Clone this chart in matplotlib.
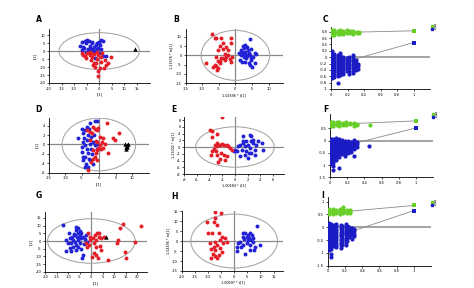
import numpy as np
import matplotlib
matplotlib.use("Agg")
import matplotlib.pyplot as plt
from matplotlib.patches import Ellipse

# ---------------- data ----------------
# Panel A (PCA scores)
A_blue_x = [-7.7,-7.0,-5.8,-4.8,-4.0,-5.3,-6.3,-7.0,-2.7,-2.0,-1.3,-0.7,0.0,0.6,1.3,0.3,-1.0,-2.3,-3.3,-4.4,-5.3,-1.7,1.6,2.7,-3.0,-3.6,-6.0,-0.3,0.8,-1.7,0.1,-4.0,-2.5]
A_blue_y = [3.1,5.8,6.4,6.8,6.2,4.8,2.7,0.6,4.8,2.7,3.7,5.2,5.8,6.8,6.4,3.7,1.6,0.6,1.0,1.6,-0.4,-4.6,-3.1,-3.1,5.5,3.0,1.8,2.2,1.0,0.0,-1.0,0.0,-1.4]
A_red_x = [-7.0,-6.4,-5.7,-4.8,-3.8,-5.4,-3.2,-2.5,-1.8,-1.2,-0.5,0.2,-0.5,1.7,2.7,3.6,4.7,2.4,0.6,1.0,-0.3,-2.9,-3.8,-0.7,-2.0,0.6,-2.0,-3.4,-1.0]
A_red_y = [-1.4,-2.5,-3.1,-1.4,-2.5,-4.6,-5.6,-8.7,-9.7,-7.7,-12.2,-10.8,-15.9,-10.8,-8.7,-7.7,-3.9,-5.6,-3.5,-1.4,-2.5,-3.5,-0.4,-0.4,-1.9,-7.0,-7.7,-1.0,-5.0]
A_black_x = [14.2]
A_black_y = [1.2]

# Panel B (OPLS-DA scores)
B_red_x = [-7.0,-6.2,-5.7,-4.2,-1.2,-4.7,-3.7,-2.7,-3.2,-2.2,-4.2,-5.2,-4.7,-5.7,-5.2,-5.4,-6.2,-6.7,-8.7,-3.2,-2.7,-1.7,-1.2,-1.0,-2.2,-3.7,-5.2,-5.7,-1.2,-4.5,-3.8]
B_red_y = [11.4,9.5,9.5,9.5,9.1,5.2,3.2,4.6,0.7,0.2,-1.6,-2.9,-4.3,-5.5,-6.8,-7.7,-5.2,-6.1,-3.9,-2.5,-0.7,-2.1,-3.4,-0.7,2.9,6.4,2.9,-0.7,6.4,-3.0,-1.2]
B_blue_x = [4.3,2.3,3.0,1.6,2.0,2.8,3.8,4.8,5.8,5.3,4.3,3.3,2.3,1.6,2.0,2.8,4.0,4.8,5.8,6.3,2.6,3.6,3.3,1.3,4.3,5.0,3.0,4.0,1.2,3.5,2.5,4.6]
B_blue_y = [8.6,5.0,5.5,2.9,2.0,2.0,2.9,3.2,1.1,-0.7,0.2,0.2,0.2,0.2,-3.4,-3.4,-3.9,-2.5,-4.3,0.7,3.8,4.6,-1.6,-2.5,-5.2,-6.1,1.2,1.0,1.2,-0.6,-1.0,-1.3]

# Panel D
D_blue_x = [-6.1,-5.1,-4.6,-4.1,-3.6,-2.6,-3.1,-4.6,-5.1,-4.1,-3.6,-2.6,-1.7,-1.2,-2.2,-3.1,-4.1,-4.6,-3.8,-3.1,-4.1,-2.6,-1.7,-1.2,-0.7,-5.1,-3.4,-2.2,-1.5,-2.8,-0.7,-4.4,-4.8,-2.0,-0.5,-3.0]
D_blue_y = [1.3,3.4,2.4,3.1,3.8,4.5,2.0,0.6,-0.5,-0.1,-0.9,0.2,0.6,-0.1,-0.9,-1.9,-2.6,-3.4,-4.1,-4.8,-4.8,-3.4,-4.1,4.9,4.9,-1.6,0.9,1.6,2.1,3.4,0.2,1.3,-2.6,-2.0,-1.0,-3.0]
D_red_x = [-3.4,-2.6,-1.7,-1.2,-0.7,0.3,0.8,1.3,0.5,-0.5,-0.9,-1.2,-0.7,-1.7,-2.2,-3.1,2.5,6.1,4.3,4.8,1.3,2.8,0.3,-0.2,-2.0,-0.5,-1.8,-0.3,1.8,-1.0,-2.5]
D_red_y = [3.1,2.7,3.8,3.4,3.1,1.6,0.6,-0.7,-0.9,-1.2,-1.9,-2.6,-3.4,-3.0,-3.7,-5.4,4.5,2.4,1.3,1.0,1.4,-1.9,-0.1,-0.8,2.5,0.5,-1.2,3.6,0.2,0.8,1.0]
D_black_x = [7.9,8.3,8.6,8.1,8.5,8.0]
D_black_y = [0.2,-0.2,0.1,-0.6,-0.5,-0.9]

# Panel E
E_red_x = [-2.1,-3.9,-3.7,-2.9,-3.6,-3.2,-2.9,-2.6,-2.4,-2.1,-1.8,-1.3,-1.1,-0.8,-3.3,-3.6,-3.8,-2.9,-2.2,-1.8,-1.3,-2.4,-1.6,-2.6,-0.5,-2.8,-3.0]
E_red_y = [8.9,5.2,4.7,3.9,2.9,0.7,0.2,0.7,0.5,0.9,0.5,0.7,0.2,-0.3,-0.5,-1.3,-2.3,-2.3,-1.8,-2.5,-2.8,-3.5,-3.8,-4.3,-0.8,1.2,-1.2]
E_blue_x = [1.3,2.4,2.6,1.8,1.2,0.8,0.5,0.0,0.3,0.8,1.6,2.1,2.6,3.2,3.4,3.7,4.2,4.5,2.4,1.6,2.1,2.9,1.1,1.7,2.9,3.2,1.3,2.2,2.6,-0.1]
E_blue_y = [3.2,3.7,3.2,1.7,1.2,0.7,0.2,-0.8,-1.3,-2.8,-2.3,-3.3,-1.8,-0.8,0.7,1.7,1.2,-0.8,-0.3,0.2,0.7,1.2,-0.8,-1.1,2.2,-2.3,1.7,-1.8,1.7,-1.1]

# Panel G
G_blue_x = [-12.3,-6.5,-5.8,-6.8,-5.1,-5.8,-4.3,-7.2,-8.3,-9.4,-10.9,-10.1,-8.7,-7.2,-5.8,-4.3,-3.6,-2.9,-1.9,-5.1,-6.5,-8.0,-9.4,-10.9,-8.7,-6.8,-4.3,-3.6,-3.9,-5.4,-8.0,-6.2,-2.5,-9.7,-7.5,-4.8,-6.0,-3.0]
G_blue_y = [10.4,8.9,8.3,7.2,6.7,5.0,5.4,3.9,2.8,1.7,0.7,-1.5,-1.1,-0.4,0.7,1.7,2.8,1.1,-0.4,-1.5,-2.6,-3.7,-4.8,-6.5,-6.5,-5.9,-5.4,-9.1,-11.3,1.7,0.7,2.8,3.9,5.0,4.5,3.4,-4.0,-1.8]
G_red_x = [-1.4,-0.4,-1.0,-1.9,0.7,1.4,2.5,3.3,4.3,1.9,1.0,2.2,3.6,4.3,2.2,2.9,7.2,1.0,0.4,10.9,11.6,12.3,13.5,21.7,14.5,15.2,18.8,5.4,3.3,-0.7,-2.5]
G_red_y = [5.4,2.8,-2.6,-4.1,1.7,3.9,5.0,2.4,1.7,0.7,-1.5,-3.7,-3.3,-5.9,-9.1,-11.3,-12.4,-7.6,-10.2,-1.5,0.7,8.3,11.1,9.8,-7.0,-11.3,-0.4,2.8,5.4,0.7,-1.5]
G_black_x = [6.5]
G_black_y = [2.8]

# Panel H
H_red_x = [-7.2,-4.9,-10.4,-7.2,-7.8,-6.6,-10.0,-8.5,-5.9,-4.7,-3.4,-2.8,-7.5,-6.6,-7.8,-8.7,-7.2,-5.3,-4.7,-8.2,-7.5,-5.9,-8.7,-6.6,-5.3,-4.1,-9.1]
H_red_y = [14.7,14.2,9.7,11.3,9.3,8.0,3.8,4.2,4.2,2.2,1.3,-0.3,-0.3,-2.0,-3.2,-4.2,-4.5,-3.7,-5.3,-6.7,-7.5,-7.0,-8.7,-8.7,0.5,-1.2,-1.2]
H_blue_x = [8.6,3.2,4.2,6.1,6.7,4.8,5.7,3.9,2.3,1.6,1.0,1.0,3.2,4.8,6.1,7.3,9.9,8.0,6.1,4.2,5.4,7.0,5.2,3.5,6.5,2.7,7.7]
H_blue_y = [7.5,3.8,4.2,3.8,3.0,2.2,1.3,0.8,-0.3,-1.2,-2.8,-5.0,-2.0,-1.2,-2.0,-0.3,-2.0,-2.8,-4.5,-6.5,0.5,1.3,3.0,2.2,0.5,-3.2,-4.5]

# Permutation tests: columns of permuted models (x = correlation, values = R2 / Q2)
C_q2_cols = [0.01,0.04,0.08,0.11,0.15,0.19,0.22,0.27,0.30,0.33]
C_q2_vals = [[0.20,0.13,0.07,0.01,-0.05,-0.12,-0.18,-0.25,-0.31,-0.38,-0.45,-0.52,-0.60,-0.66],
             [0.10,0.04,-0.03,-0.09,-0.16,-0.22,-0.28,-0.35,-0.41,-0.48,-0.55,-0.63],
             [0.06,-0.01,-0.08,-0.14,-0.21,-0.27,-0.34,-0.40,-0.47,-0.54,-0.60,-0.80],
             [0.14,0.07,0.00,-0.07,-0.13,-0.20,-0.26,-0.33,-0.40,-0.47,-0.55],
             [0.02,-0.05,-0.11,-0.18,-0.24,-0.31,-0.37,-0.45,-0.52],
             [-0.04,-0.10,-0.17,-0.23,-0.30,-0.36,-0.43],
             [0.01,-0.06,-0.13,-0.20,-0.27,-0.35,-0.44,-0.53],
             [0.08,0.00,-0.08,-0.16,-0.25,-0.33,-0.42,-0.50],
             [-0.10,-0.17,-0.26,-0.34,-0.41],
             [-0.20,-0.28,-0.36]]
C_r2_cols = [0.01,0.04,0.08,0.11,0.15,0.19,0.23,0.27,0.31,0.34]
C_r2_vals = [[0.84,0.79,0.74,0.70],[0.86,0.80,0.75,0.71],[0.83,0.78,0.73],[0.85,0.80,0.76,0.72],
             [0.82,0.77,0.73],[0.84,0.79,0.75],[0.81,0.77],[0.83,0.78,0.74],[0.80,0.76],[0.79,0.75]]
C_orig = [0.83, 0.46]          # original R2, Q2
C_intercepts = [0.77, -0.27]    # regression-line intercepts R2, Q2

F_q2_cols = [0.01,0.04,0.07,0.10,0.14,0.18,0.21,0.25,0.28,0.32,0.46]
F_q2_vals = [[0.05,-0.05,-0.15,-0.25,-0.35,-0.45,-0.55,-0.65,-0.75,-0.85,-0.95],
             [0.07,-0.03,-0.13,-0.23,-0.33,-0.43,-0.53,-0.63,-0.73,-0.83,-0.93,-1.02,-1.20],
             [0.10,0.00,-0.10,-0.20,-0.30,-0.40,-0.50,-0.60,-0.70,-0.80],
             [0.05,-0.05,-0.15,-0.25,-0.35,-0.45,-0.55,-0.66,-1.10],
             [0.04,-0.06,-0.16,-0.26,-0.36,-0.46,-0.56],
             [-0.03,-0.13,-0.23,-0.33,-0.43,-0.53,-0.62],
             [0.00,-0.10,-0.20,-0.30,-0.40,-0.50],
             [-0.04,-0.14,-0.24,-0.34,-0.45],
             [0.02,-0.08,-0.18,-0.28,-0.36,-0.62],
             [-0.06,-0.15,-0.24],
             [-0.22]]
F_r2_cols = [0.01,0.04,0.08,0.11,0.15,0.19,0.23,0.28,0.32,0.47]
F_r2_vals = [[0.76,0.70,0.64,0.59],[0.78,0.72,0.66,0.61],[0.75,0.69,0.63],[0.77,0.71,0.66,0.61],
             [0.74,0.68,0.63],[0.76,0.70,0.65],[0.73,0.67],[0.72,0.67,0.62],[0.70,0.65],[0.63]]
F_orig = [0.81, 0.52]
F_intercepts = [0.66, -0.36]

I_q2_cols = [0.01,0.035,0.07,0.10,0.15,0.165,0.21,0.225,0.25,0.28,0.31]
I_q2_vals = [[0.18,0.09,0.00,-0.09,-0.18,-0.27,-0.36,-0.45,-0.54,-0.63,-0.72,-0.80,-0.87],
             [0.13,0.04,-0.05,-0.14,-0.23,-0.32,-0.41,-0.50,-0.59,-0.68,-0.77,-0.86,-1.06,-1.15],
             [0.08,-0.01,-0.10,-0.19,-0.28,-0.37,-0.46,-0.55,-0.64,-0.72],
             [0.12,0.03,-0.06,-0.15,-0.24,-0.33,-0.42,-0.51,-0.60,-0.69,-0.78],
             [0.10,0.01,-0.08,-0.17,-0.26,-0.35,-0.44,-0.53,-0.62,-0.71,-0.80],
             [0.05,-0.05,-0.14,-0.23,-0.32,-0.41,-0.50,-0.60,-0.70],
             [0.14,0.05,-0.04,-0.13,-0.22,-0.31,-0.40,-0.49,-0.58,-0.68],
             [0.04,-0.06,-0.15,-0.24,-0.33,-0.42,-0.52],
             [0.00,-0.10,-0.19,-0.28,-0.38],
             [-0.02,-0.12,-0.22,-0.32,-0.45],
             [-0.05,-0.15,-0.25,-0.35]]
I_r2_cols = [0.02,0.06,0.10,0.14,0.18,0.22,0.26]
I_r2_vals = [[0.70,0.63,0.56,0.50],[0.71,0.64,0.57,0.51],[0.69,0.62,0.55],[0.72,0.65,0.58,0.52],
             [0.80,0.70,0.63,0.56],[0.68,0.61,0.54],[0.69,0.62,0.56]]
I_orig = [0.85, 0.65]
I_intercepts = [0.55, -0.48]

# ---------------- drawing ----------------
W, H = 474, 288
fig = plt.figure(figsize=(W / 100, H / 100), dpi=100)
fig.patch.set_facecolor("white")

RED = "#e41e28"
BLUE = "#2222d6"
GREEN = "#68cf28"
PBLUE = "#1c1cc4"
GRAY = "#8a8a8a"
TICKFS = 2.6
MS = 8


def add_ax(x0, y0, x1, y1):
    return fig.add_axes([x0 / W, 1 - y1 / H, (x1 - x0) / W, (y1 - y0) / H])


def style(ax, xlim, ylim, xticks, yticks):
    ax.set_xlim(*xlim)
    ax.set_ylim(*ylim)
    ax.set_xticks(xticks)
    ax.set_yticks(yticks)
    ax.set_xticklabels(["%g" % t for t in xticks])
    ax.set_yticklabels(["%g" % t for t in yticks])
    for s in ["top", "right"]:
        ax.spines[s].set_visible(False)
    for s in ["left", "bottom"]:
        ax.spines[s].set_linewidth(0.6)
        ax.spines[s].set_color("black")
    ax.tick_params(direction="out", length=1.5, width=0.5, labelsize=TICKFS, pad=1.2)
    ax.patch.set_alpha(0)


def score_panel(box, xlim, ylim, xticks, yticks, red, blue, black, ell, xlabel, ylabel, label, lpos):
    ax = add_ax(*box)
    style(ax, xlim, ylim, xticks, yticks)
    ax.axhline(0, color=GRAY, lw=0.9, zorder=1)
    ax.axvline(0, color=GRAY, lw=0.9, zorder=1)
    ax.add_patch(Ellipse((0, 0), 2 * ell[0], 2 * ell[1], fill=False, ec="#a4a4a4", lw=0.75, zorder=1))
    ax.scatter(blue[0], blue[1], s=MS, c=BLUE, lw=0, zorder=3)
    ax.scatter(red[0], red[1], s=MS, c=RED, lw=0, zorder=3)
    if black is not None:
        ax.scatter(black[0], black[1], s=10, c="black", marker="^", lw=0, zorder=4)
    ax.set_xlabel(xlabel, fontsize=2.4, labelpad=1.5)
    ax.set_ylabel(ylabel, fontsize=2.4, labelpad=1.5)
    fig.text(lpos[0] / W, 1 - lpos[1] / H, label, fontsize=5.5, fontweight="bold", ha="center", va="center")
    return ax


def expand(cols, vals):
    xs, ys = [], []
    for c, v in zip(cols, vals):
        xs += [c] * len(v)
        ys += list(v)
    return np.array(xs), np.array(ys)


def perm_panel(box, ylim, yticks, q2c, q2v, r2c, r2v, orig, inter, label, lpos, legpos):
    ax = add_ax(*box)
    style(ax, (0, 1.2), ylim, [0, 0.2, 0.4, 0.6, 0.8, 1], yticks)
    ax.axhline(0, color=GRAY, lw=1.1, zorder=1)
    ax.plot([0, 1], [inter[0], orig[0]], color=GRAY, lw=0.6, zorder=2)
    ax.plot([0, 1], [inter[1], orig[1]], color=GRAY, lw=0.6, zorder=2)
    qx, qy = expand(q2c, q2v)
    rx, ry = expand(r2c, r2v)
    ax.scatter(rx, ry, s=9, c=GREEN, lw=0, zorder=3)
    ax.scatter([1], [orig[0]], s=8, c=GREEN, marker="s", lw=0, zorder=3)
    ax.scatter(qx, qy, s=9, c=PBLUE, lw=0, zorder=3)
    ax.scatter([1], [orig[1]], s=8, c=PBLUE, marker="s", lw=0, zorder=3)
    fig.text(lpos[0] / W, 1 - lpos[1] / H, label, fontsize=5.5, fontweight="bold", ha="center", va="center")
    lx, ly = legpos
    fig.patches.append(plt.Rectangle((lx / W, 1 - (ly + 2) / H), 2.2 / W, 2.2 / H, transform=fig.transFigure,
                                     color=GREEN, figure=fig))
    fig.patches.append(plt.Rectangle((lx / W, 1 - (ly + 5) / H), 2.2 / W, 2.2 / H, transform=fig.transFigure,
                                     color=PBLUE, figure=fig))
    fig.text((lx + 3) / W, 1 - (ly + 1) / H, "R2", fontsize=1.8, va="center")
    fig.text((lx + 3) / W, 1 - (ly + 4) / H, "Q2", fontsize=1.8, va="center")
    return ax


# Row 1
score_panel((49, 28.7, 150, 83), (-20, 20.2), (-20, 14), range(-20, 16, 5), range(-20, 11, 5),
            (A_red_x, A_red_y), (A_blue_x, A_blue_y), (A_black_x, A_black_y), (16, 11.5),
            "t[1]", "t[2]", "A", (39.3, 20))
score_panel((185.5, 28.7, 283, 83.3), (-15, 14.3), (-15, 14.3), range(-15, 11, 5), range(-15, 11, 5),
            (B_red_x, B_red_y), (B_blue_x, B_blue_y), None, (10.3, 13.4),
            "1.02696 * t[1]", "1.21676 * to[1]", "B", (175.7, 19.3))
perm_panel((331, 27, 430, 89), (-1, 0.95), [-1, -0.8, -0.6, -0.4, -0.2, 0, 0.2, 0.4, 0.6, 0.8],
           C_q2_cols, C_q2_vals, C_r2_cols, C_r2_vals, C_orig, C_intercepts, "C", (325.3, 20), (431, 25))

# Row 2
score_panel((48.7, 117.7, 149, 172.7), (-15, 15), (-6, 5.7), range(-15, 11, 5), range(-6, 5, 2),
            (D_red_x, D_red_y), (D_blue_x, D_blue_y), (D_black_x, D_black_y), (11, 5.6),
            "t[1]", "t[2]", "D", (38.7, 109.3))
score_panel((184.3, 116.7, 284.3, 174), (-8, 7.8), (-8, 9), range(-8, 7, 2), range(-8, 9, 2),
            (E_red_x, E_red_y), (E_blue_x, E_blue_y), None, (6.2, 6.0),
            "1.00484 * t[1]", "1.23002 * to[1]", "E", (173.7, 109.3))
perm_panel((330, 114.3, 433, 177.3), (-1.5, 1.08), [-1.5, -1, -0.5, 0, 0.5],
           F_q2_cols, F_q2_vals, F_r2_cols, F_r2_vals, F_orig, F_intercepts, "F", (325.7, 109.3), (432, 113))

# Row 3
score_panel((45.3, 212.3, 146.7, 271.7), (-20, 24), (-20, 18.7), range(-20, 21, 5), range(-20, 16, 5),
            (G_red_x, G_red_y), (G_blue_x, G_blue_y), (G_black_x, G_black_y), (19, 14.5),
            "t[1]", "t[2]", "G", (39, 196))
score_panel((181.7, 210.7, 283.3, 271), (-20, 18.7), (-15, 15.2), range(-20, 16, 5), range(-15, 16, 5),
            (H_red_x, H_red_y), (H_blue_x, H_blue_y), None, (16.5, 13.5),
            "1.00697 * t[1]", "1.04495 * to[1]", "H", (174.3, 196.7))
perm_panel((327.7, 197, 431, 265.7), (-1.5, 1.18), [-1.5, -1, -0.5, 0, 0.5, 1],
           I_q2_cols, I_q2_vals, I_r2_cols, I_r2_vals, I_orig, I_intercepts, "I", (322.7, 195), (431, 201))

fig.savefig("out.png", dpi=100, facecolor="white")
